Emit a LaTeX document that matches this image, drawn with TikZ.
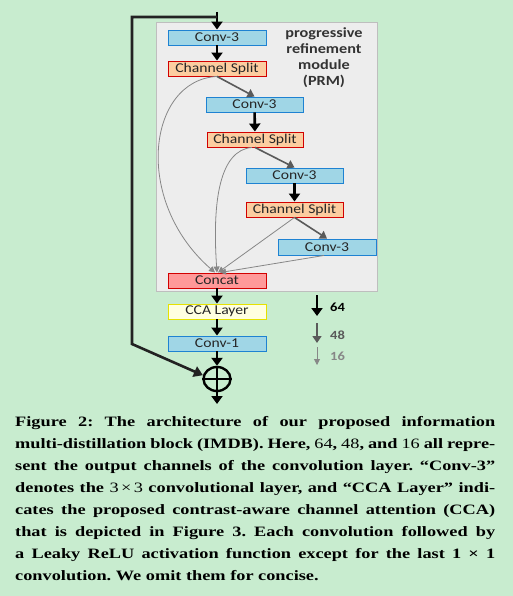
\documentclass[tikz,border=0pt]{standalone}
\usepackage{fontspec}
\setmainfont{Liberation Serif}[FakeStretch=1.28]
\newfontfamily\diafont{Carlito}[FakeStretch=1.16]
\usetikzlibrary{arrows.meta,shapes.geometric}
\definecolor{bgc}{RGB}{200,236,207}
\definecolor{prmfill}{RGB}{237,237,237}
\definecolor{prmdraw}{RGB}{190,190,190}
\definecolor{convfill}{RGB}{160,214,230}
\definecolor{convdraw}{RGB}{30,130,210}
\definecolor{splitfill}{RGB}{252,205,160}
\definecolor{reddraw}{RGB}{210,0,0}
\definecolor{catfill}{RGB}{255,153,153}
\definecolor{ccafill}{RGB}{255,255,224}
\definecolor{ccadraw}{RGB}{230,225,0}
\definecolor{midgray}{RGB}{90,90,90}
\definecolor{lightgray}{RGB}{135,135,135}
\definecolor{skipc}{RGB}{34,34,34}
\tikzset{
  blk/.style={minimum width=98pt,minimum height=15pt,inner sep=0pt,line width=0.9pt,font=\diafont\fontsize{13.5}{14}\selectfont,text=black!85},
  conv/.style={blk,fill=convfill,draw=convdraw},
  splitbox/.style={blk,fill=splitfill,draw=reddraw},
  catbox/.style={blk,fill=catfill,draw=reddraw},
  ccabox/.style={blk,fill=ccafill,draw=ccadraw},
  big/.style={line width=2.6pt,black,-{Triangle[length=8pt,width=11pt]}},
  mid/.style={line width=1.6pt,midgray,-{Triangle[length=7pt,width=9pt]}},
  thin/.style={line width=0.8pt,lightgray,-{Triangle[length=6pt,width=6pt]}},
  skip/.style={line width=2.6pt,skipc},
}
\begin{document}
\begin{tikzpicture}[x=1pt,y=-1pt]
\fill[bgc] (0,0) rectangle (513,596);
\useasboundingbox (0,0) rectangle (513,596);
\node[draw=prmdraw,fill=prmfill,line width=0.9pt,minimum width=221pt,minimum height=269pt,inner sep=0pt] (prm) at (266.5,156.5) {};
\node[align=center,font=\diafont\bfseries\fontsize{14}{16}\selectfont,text=black!80] (prmlabel) at (324,58) {progressive\\refinement\\module\\(PRM)};
\node[conv] (c1) at (217,37.5) {Conv-3};
\node[splitbox] (s1) at (217,68.5) {Channel Split};
\node[conv,minimum width=97pt] (c2) at (254.5,104.5) {Conv-3};
\node[splitbox,minimum width=96pt] (s2) at (255,139.5) {Channel Split};
\node[conv,minimum width=97pt] (c3) at (294.5,175.5) {Conv-3};
\node[splitbox,minimum width=97pt] (s3) at (294.5,209.5) {Channel Split};
\node[conv,minimum height=16pt] (c4) at (327,247) {Conv-3};
\node[catbox] (cat) at (217,280.5) {Concat};
\node[ccabox] (cca) at (217,311.5) {CCA Layer};
\node[conv] (cone) at (217,343.5) {Conv-1};
\node[draw=black,line width=2.4pt,ellipse,minimum width=27pt,minimum height=24pt,inner sep=0pt] (plus) at (217,379) {};
\draw[line width=2.4pt] (plus.north) -- (plus.south) (plus.west) -- (plus.east);
% input and skip
\coordinate (top) at (217,12);
\coordinate (br) at (217,17);
\coordinate (k1) at (132,17);
\coordinate (k2) at (132,344);
\coordinate (out) at (217,404);
\draw[big] (top) -- (c1.north);
\draw[skip,-{Triangle[length=9pt,width=11pt]}] (br) -- (k1) -- (k2) -- (plus.165);
% main path
\draw[big] (c1) -- (s1);
\draw[mid] (s1.south) -- (c2.north);
\draw[big] (c2) -- (s2);
\draw[mid] (s2.south) -- (c3.north);
\draw[big] (c3) -- (s3);
\draw[mid] (s3.south) -- (c4.north);
\draw[thin] (s1.south) .. controls (148,80) and (132,200) .. ([xshift=-2pt]cat.north);
\draw[thin] ([xshift=-3pt]s2.south) .. controls (220,150) and (212,200) .. (cat.north);
\draw[thin] (s3.south) -- ([xshift=1pt]cat.north);
\draw[thin] ([xshift=-3pt]c4.south) -- ([xshift=3pt]cat.north);
\draw[big] (cat) -- (cca);
\draw[big] (cca) -- (cone);
\draw[big] (cone) -- (plus);
\draw[big] (plus) -- (out);
% legend
\coordinate (l1a) at (317,295);
\coordinate (l1b) at (317,316);
\coordinate (l2a) at (317,323);
\coordinate (l2b) at (317,343);
\coordinate (l3a) at (317,347);
\coordinate (l3b) at (317,365);
\draw[big] (l1a) -- (l1b);
\draw[mid] (l2a) -- (l2b);
\draw[thin] (l3a) -- (l3b);
\node[anchor=west,inner sep=0pt,font=\diafont\bfseries\fontsize{12.5}{14}\selectfont] (t64) at (330,307) {64};
\node[anchor=west,inner sep=0pt,font=\diafont\bfseries\fontsize{12.5}{14}\selectfont,text=midgray] (t48) at (330,335) {48};
\node[anchor=west,inner sep=0pt,font=\diafont\bfseries\fontsize{12.5}{14}\selectfont,text=lightgray] (t16) at (330,356) {16};
% caption
\node[anchor=north west,inner sep=0pt,text width=480pt,align=justify,font=\fontsize{14.3}{22}\selectfont\bfseries] (cap) at (15,416) {%
\hyphenpenalty=10000\frenchspacing
Figure 2: The architecture of our proposed information\linebreak
multi-distillation block (IMDB). Here, {\mdseries 64}, {\mdseries 48}, and {\mdseries 16} all repre-\linebreak
sent the output channels of the convolution layer. “Conv-3”\linebreak
denotes the {\mdseries 3\,×\,3} convolutional layer, and “CCA Layer” indi-\linebreak
cates the proposed contrast-aware channel attention (CCA)\linebreak
that is depicted in Figure 3. Each convolution followed by\linebreak
a Leaky ReLU activation function except for the last 1 × 1\linebreak
convolution. We omit them for concise.};
\end{tikzpicture}
\end{document}
